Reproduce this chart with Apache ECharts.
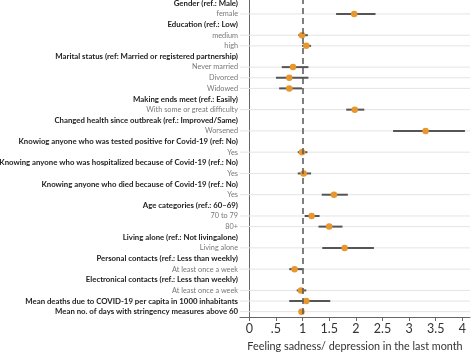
<!DOCTYPE html>
<html>
<head>
<meta charset="utf-8">
<script src="https://cdn.jsdelivr.net/npm/echarts@6/dist/echarts.min.js"></script>
<style>html,body{margin:0;padding:0;background:#fff;}#c{width:474px;height:352px;}</style>
</head>
<body>
<div id="c"></div>
<script>
const rowLabels = [
  'Gender (ref.: Male)', 'female',
  'Education (ref.: Low)', 'medium', 'high',
  'Marital status (ref: Married or registered partnership)', 'Never married', 'Divorced', 'Widowed',
  'Making ends meet (ref.: Easily)', 'With some or great difficulty',
  'Changed health since outbreak (ref.: Improved/Same)', 'Worsened',
  'Knowiog anyone who was tested positive for Covid-19 (ref: No)', 'Yes',
  'Knowing anyone who was hospitalized because of Covid-19 (ref.: No)', 'Yes',
  'Knowing anyone who died because of Covid-19 (ref.: No)', 'Yes',
  'Age categories (ref.: 60–69)', '70 to 79', '80+',
  'Living alone (ref.: Not livingalone)', 'Living alone',
  'Personal contacts (ref.: Less than weekly)', 'At least once a week',
  'Electronical contacts (ref.: Less than weekly)', 'At least once a week',
  'Mean deaths due to COVID-19 per capita in 1000 inhabitants',
  'Mean no. of days with stringency measures above 60'
];
const rowBold = [1,0, 1,0,0, 1,0,0,0, 1,0, 1,0, 1,0, 1,0, 1,0, 1,0,0, 1,0, 1,0, 1,0, 1,1];
const estimate = [null,1.97, null,0.99,1.07, null,0.82,0.75,0.75, null,1.98, null,3.31, null,0.99, null,1.02, null,1.59, null,1.17,1.50, null,1.79, null,0.85, null,0.97, 1.07,0.98];
const lower    = [null,1.63, null,0.92,0.99, null,0.61,0.50,0.56, null,1.82, null,2.70, null,0.91, null,0.91, null,1.36, null,1.04,1.30, null,1.37, null,0.75, null,0.89, 0.75,0.97];
const upper    = [null,2.37, null,1.10,1.16, null,1.11,1.11,0.99, null,2.16, null,4.05, null,1.09, null,1.16, null,1.85, null,1.32,1.75, null,2.34, null,1.00, null,1.07, 1.52,1.00];
const xTicks = [0, 0.5, 1, 1.5, 2, 2.5, 3, 3.5, 4];
const xTickLabels = ['0', '.5', '1', '1.5', '2', '2.5', '3', '3.5', '4'];
const refValue = 1;
const xTitle = 'Feeling sadness/ depression in the last month';

const FONT = 'Lato';
const cats = rowLabels.map((_, i) => String(i));
const rows = [];
estimate.forEach((e, i) => { if (e !== null) rows.push([e, i, lower[i], upper[i]]); });

const chart = echarts.init(document.getElementById('c'), null, {renderer: 'canvas'});
chart.setOption({
  animation: false,
  backgroundColor: '#fff',
  grid: {left: 240, right: 4, top: -2, bottom: 35, containLabel: false, outerBoundsMode: 'none'},
  xAxis: {
    type: 'value', min: -0.175, max: 4.145,
    axisLine: {show: true, onZero: false, lineStyle: {color: '#666', width: 1}},
    axisTick: {show: true, customValues: xTicks, length: 4, lineStyle: {color: '#666'}},
    axisLabel: {
      customValues: xTicks, margin: 5, fontSize: 12.5, color: '#333', fontFamily: FONT,
      formatter: v => { const k = xTicks.indexOf(Math.round(v * 100) / 100); return k >= 0 ? xTickLabels[k] : ''; }
    },
    splitLine: {show: false},
    name: xTitle, nameLocation: 'middle', nameGap: 24,
    nameTextStyle: {fontSize: 10.8, color: '#333', fontFamily: FONT}
  },
  yAxis: {
    type: 'category', inverse: true, data: cats,
    axisLine: {show: true, lineStyle: {color: '#666', width: 1}},
    axisTick: {show: false},
    splitLine: {show: false},
    axisLabel: {
      interval: 0, margin: 2, fontFamily: FONT,
      formatter: v => { const i = +v; return (rowBold[i] ? '{h|' : '{s|') + rowLabels[i] + '}'; },
      rich: {
        h: {fontSize: 7.8, fontWeight: 'bold', color: '#222', fontFamily: FONT},
        s: {fontSize: 7.3, color: '#777', fontFamily: FONT}
      }
    }
  },
  series: [
    {
      type: 'custom', z: 1, silent: true,
      data: rows,
      renderItem: (params, api) => {
        const y = api.coord([0, api.value(1)])[1];
        const cs = params.coordSys;
        return {type: 'line', shape: {x1: cs.x, y1: y, x2: cs.x + cs.width, y2: y},
                style: {stroke: '#e4e4e4', lineWidth: 1}};
      }
    },
    {
      type: 'scatter', z: 2, silent: true, data: [], symbolSize: 0,
      markLine: {
        silent: true, symbol: 'none', label: {show: false},
        lineStyle: {color: '#555', width: 1.5, type: [6, 4]},
        data: [{xAxis: refValue}]
      }
    },
    {
      type: 'custom', z: 3, silent: true,
      data: rows,
      encode: {x: [0, 2, 3], y: 1},
      renderItem: (params, api) => {
        const a = api.coord([api.value(2), api.value(1)]);
        const b = api.coord([api.value(3), api.value(1)]);
        return {type: 'line', shape: {x1: a[0], y1: a[1], x2: b[0], y2: b[1]},
                style: {stroke: '#555', lineWidth: 2}};
      }
    },
    {
      type: 'scatter', z: 4, silent: true,
      data: rows.map(r => [r[0], r[1]]),
      symbol: 'circle', symbolSize: 6.5,
      itemStyle: {color: '#E8962E', opacity: 1}
    }
  ]
});
</script>
</body>
</html>
